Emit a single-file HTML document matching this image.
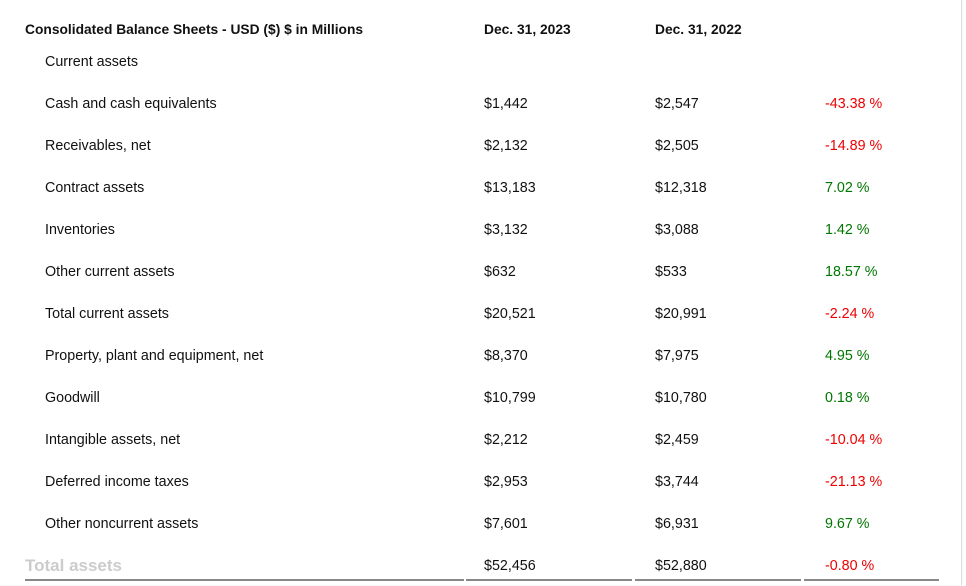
<!DOCTYPE html>
<html style="overflow:hidden;height:586px"><head><style>
body{margin:0;width:966px;height:586px;background:#fff;font-family:"Liberation Sans",Arial,sans-serif;overflow:hidden;position:relative}
.card{position:absolute;left:-2px;top:-10px;width:962px;height:594px;border:1px solid #ddd;border-bottom:none;border-radius:12px 12px 0 0;box-shadow:0 0 3px rgba(0,0,0,.08)}
.t{position:absolute;font-size:14.3px;color:#111;white-space:nowrap;line-height:16px;margin-top:1px}
.h{font-weight:bold;font-size:13.8px}
.r{color:#e00}.g{color:#070}
.line{position:absolute;top:579px;height:2px;background:#888}
</style></head><body>
<div class="card"></div>
<div class="t h" style="left:25px;top:21px">Consolidated Balance Sheets - USD ($) $ in Millions</div>
<div class="t h" style="left:484px;top:21px">Dec. 31, 2023</div>
<div class="t h" style="left:655px;top:21px">Dec. 31, 2022</div>
<div class="t" style="left:45px;top:53px">Current assets</div>

<div class="t" style="left:45px;top:95px">Cash and cash equivalents</div><div class="t" style="left:484px;top:95px">$1,442</div><div class="t" style="left:655px;top:95px">$2,547</div><div class="t r" style="left:825px;top:95px">-43.38 %</div>
<div class="t" style="left:45px;top:137px">Receivables, net</div><div class="t" style="left:484px;top:137px">$2,132</div><div class="t" style="left:655px;top:137px">$2,505</div><div class="t r" style="left:825px;top:137px">-14.89 %</div>
<div class="t" style="left:45px;top:179px">Contract assets</div><div class="t" style="left:484px;top:179px">$13,183</div><div class="t" style="left:655px;top:179px">$12,318</div><div class="t g" style="left:825px;top:179px">7.02 %</div>
<div class="t" style="left:45px;top:221px">Inventories</div><div class="t" style="left:484px;top:221px">$3,132</div><div class="t" style="left:655px;top:221px">$3,088</div><div class="t g" style="left:825px;top:221px">1.42 %</div>
<div class="t" style="left:45px;top:263px">Other current assets</div><div class="t" style="left:484px;top:263px">$632</div><div class="t" style="left:655px;top:263px">$533</div><div class="t g" style="left:825px;top:263px">18.57 %</div>
<div class="t" style="left:45px;top:305px">Total current assets</div><div class="t" style="left:484px;top:305px">$20,521</div><div class="t" style="left:655px;top:305px">$20,991</div><div class="t r" style="left:825px;top:305px">-2.24 %</div>
<div class="t" style="left:45px;top:347px">Property, plant and equipment, net</div><div class="t" style="left:484px;top:347px">$8,370</div><div class="t" style="left:655px;top:347px">$7,975</div><div class="t g" style="left:825px;top:347px">4.95 %</div>
<div class="t" style="left:45px;top:389px">Goodwill</div><div class="t" style="left:484px;top:389px">$10,799</div><div class="t" style="left:655px;top:389px">$10,780</div><div class="t g" style="left:825px;top:389px">0.18 %</div>
<div class="t" style="left:45px;top:431px">Intangible assets, net</div><div class="t" style="left:484px;top:431px">$2,212</div><div class="t" style="left:655px;top:431px">$2,459</div><div class="t r" style="left:825px;top:431px">-10.04 %</div>
<div class="t" style="left:45px;top:473px">Deferred income taxes</div><div class="t" style="left:484px;top:473px">$2,953</div><div class="t" style="left:655px;top:473px">$3,744</div><div class="t r" style="left:825px;top:473px">-21.13 %</div>
<div class="t" style="left:45px;top:515px">Other noncurrent assets</div><div class="t" style="left:484px;top:515px">$7,601</div><div class="t" style="left:655px;top:515px">$6,931</div><div class="t g" style="left:825px;top:515px">9.67 %</div>

<div class="t" style="left:25px;top:556px;font-size:17px;font-weight:bold;color:#ccc;line-height:18px">Total assets</div>
<div class="t" style="left:484px;top:557px">$52,456</div><div class="t" style="left:655px;top:557px">$52,880</div><div class="t r" style="left:825px;top:557px">-0.80 %</div>

<div class="line" style="left:25px;width:439px"></div>
<div class="line" style="left:466px;width:166px"></div>
<div class="line" style="left:635px;width:166px"></div>
<div class="line" style="left:804px;width:135px"></div>
</body></html>
